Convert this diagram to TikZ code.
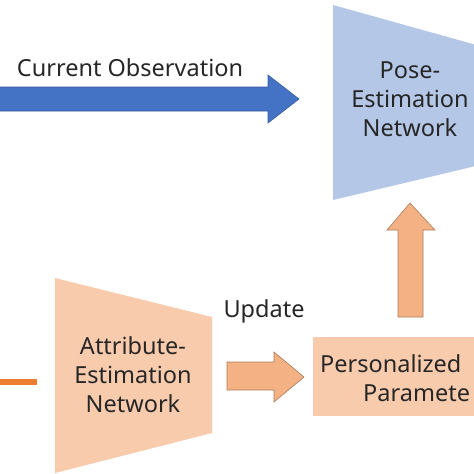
\documentclass[tikz,border=0pt]{standalone}
\usepackage{fontspec}
\setmainfont{Noto Sans}
\begin{document}
\begin{tikzpicture}[x=1pt,y=-1pt,
  lbl/.style={font=\fontsize{23.5}{29}\selectfont, text=black!85, inner sep=0pt, align=center},
  bluearrow/.style={fill=bluearr, draw=bluearr!80!black, line width=0.6pt},
  orangearrow/.style={fill=orangearr, draw=orangearr!70!black, line width=0.6pt}]
\definecolor{bluefill}{HTML}{B4C7E7}
\definecolor{orangefill}{HTML}{F8CBAD}
\definecolor{bluearr}{HTML}{4472C4}
\definecolor{orangearr}{HTML}{F4B183}
\definecolor{orangeline}{HTML}{ED7D31}
\useasboundingbox (0,0) rectangle (474,474);
\clip (0,0) rectangle (474,474);
\fill[white] (0,0) rectangle (474,474);
% Pose-estimation network
\fill[bluefill] (333,5) -- (480,46) -- (480,165) -- (333,200) -- cycle;
\node[lbl] (pose) at (410,99) {Pose-\\Estimation\\Network};
% current observation arrow
\draw[bluearrow] (-2,87) -- (268,87) -- (268,75) -- (299,99) -- (268,123) -- (268,111) -- (-2,111) -- cycle;
\node[lbl] (obs) at (130,68) {Current Observation};
% attribute-estimation network
\fill[orangefill] (55,278) -- (212,317) -- (212,433) -- (55,473) -- cycle;
\node[lbl] (attr) at (133,375) {Attribute-\\Estimation\\Network};
% left orange line
\coordinate (lstart) at (-2,382);
\coordinate (lend) at (37,382);
\draw[orangeline, line width=5.5pt] (lstart) -- (lend);
% update arrow
\draw[orangearrow] (227,362) -- (274,362) -- (274,352) -- (304,377) -- (274,402) -- (274,390) -- (227,390) -- cycle;
\node[lbl] (upd) at (264,311) {Update};
% personalized parameters
\fill[orangefill] (313,337) rectangle (480,416);
\node[lbl, anchor=west] (pers) at (320,364) {Personalized};
\node[lbl, anchor=west] (param) at (363,393) {Paramete};
% up arrow
\draw[orangearrow] (398,317) -- (398,230) -- (387,230) -- (410,203) -- (435,230) -- (423,230) -- (423,317) -- cycle;
\end{tikzpicture}
\end{document}
